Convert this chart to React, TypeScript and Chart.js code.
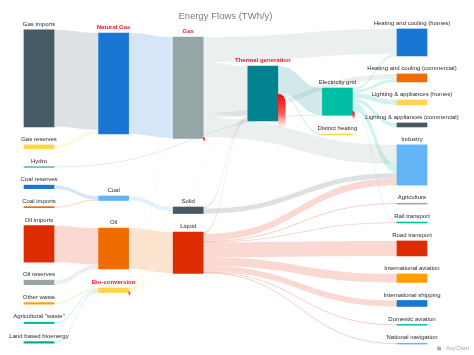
import React, { useEffect, useRef } from 'react';
import { Chart, registerables } from 'chart.js';

Chart.register(...registerables);

const TITLE = 'Energy Flows (TWh/y)';

// ---- nodes (in column order) ----
const nodeNames = [
  'Gas imports', 'Gas reserves', 'Hydro', 'Coal reserves', 'Coal imports', 'Oil imports',
  'Oil reserves', 'Other waste', 'Agricultural "waste"', 'Land based bioenergy',
  'Natural Gas', 'Coal', 'Oil', 'Bio-conversion',
  'Gas', 'Solid', 'Liquid',
  'Thermal generation',
  'Electricity grid', 'District heating',
  'Heating and cooling (homes)', 'Heating and cooling (commercial)', 'Lighting & appliances (homes)',
  'Lighting & appliances (commercial)', 'Industry', 'Agriculture', 'Rail transport', 'Road transport',
  'International aviation', 'International shipping', 'Domestic aviation', 'National navigation',
];

const nodeColors = [
  '#455a64', '#ffd54f', '#00838f', '#1976d2', '#ef6c00', '#dd2c00',
  '#96a6a6', '#ffa000', '#00bfa5', '#00a894',
  '#1976d2', '#64b5f6', '#ef6c00', '#ffd54f',
  '#96a6a6', '#455a64', '#dd2c00',
  '#00838f',
  '#00bfa5', '#ffd54f',
  '#1976d2', '#ef6c00', '#ffd54f',
  '#455a64', '#64b5f6', '#96a6a6', '#00bfa5', '#dd2c00',
  '#ffa000', '#1976d2', '#00bfa5', '#64b5f6',
];

// ---- flows (TWh/y) ----
const flowFrom = [
  'Gas imports', 'Gas reserves', 'Hydro', 'Coal reserves', 'Coal imports', 'Oil imports', 'Oil reserves',
  'Other waste', 'Agricultural "waste"', 'Land based bioenergy',
  'Natural Gas', 'Coal', 'Oil', 'Bio-conversion', 'Bio-conversion', 'Bio-conversion', 'Bio-conversion',
  'Gas', 'Gas', 'Gas', 'Gas',
  'Solid', 'Solid',
  'Liquid', 'Liquid', 'Liquid', 'Liquid', 'Liquid', 'Liquid', 'Liquid', 'Liquid', 'Liquid',
  'Thermal generation', 'Thermal generation',
  'Electricity grid', 'Electricity grid', 'Electricity grid', 'Electricity grid', 'Electricity grid', 'Electricity grid',
  'District heating',
];
const flowTo = [
  'Natural Gas', 'Natural Gas', 'Electricity grid', 'Coal', 'Coal', 'Oil', 'Oil',
  'Bio-conversion', 'Bio-conversion', 'Bio-conversion',
  'Gas', 'Solid', 'Liquid', 'Gas', 'Solid', 'Liquid', 'Thermal generation',
  'Heating and cooling (homes)', 'Heating and cooling (commercial)', 'Thermal generation', 'Industry',
  'Thermal generation', 'Industry',
  'Thermal generation', 'Industry', 'Road transport', 'International aviation', 'International shipping',
  'Domestic aviation', 'National navigation', 'Agriculture', 'Rail transport',
  'Electricity grid', 'District heating',
  'Heating and cooling (homes)', 'Heating and cooling (commercial)', 'Lighting & appliances (homes)',
  'Lighting & appliances (commercial)', 'Industry', 'Rail transport',
  'Industry',
];
const flowValues = [
  97, 4, 0.3, 3.5, 1, 36.5, 4.5,
  1.5, 1.5, 1.5,
  101, 4.5, 41, 0.5, 2, 0.5, 0.5,
  25, 5, 51, 19,
  1.5, 5,
  2, 7, 15, 8.5, 6, 0.8, 0.8, 0.8, 0.4,
  27, 1,
  2, 3, 5, 4, 8.5, 0.5,
  0.8,
];

// ---- losses (drop-offs) ----
const dropoffNodes = ['Gas', 'Thermal generation', 'Electricity grid', 'Bio-conversion'];
const dropoffValues = [1.5, 27, 4.3, 1];

const highlightedNodes = ['Natural Gas', 'Gas', 'Thermal generation', 'Bio-conversion'];

// ---- layout settings (value units) ----
const NODE_PADDING = 18;
const Y_EXTENT = 317;
const innerNodeTop: Record<string, number> = {
  'Natural Gas': 5, 'Coal': 168, 'Oil': 200, 'Bio-conversion': 260,
  'Gas': 9, 'Solid': 179, 'Liquid': 204,
  'Thermal generation': 38,
  'Electricity grid': 60, 'District heating': 106,
};

function buildLayout() {
  const n = nodeNames.length;
  const idx = new Map<string, number>(nodeNames.map((s, i) => [s, i]));
  const inSum = new Array(n).fill(0);
  const outSum = new Array(n).fill(0);
  const drop = new Array(n).fill(0);
  const links = flowFrom.map((f, k) => ({ s: idx.get(f)!, t: idx.get(flowTo[k])!, v: flowValues[k], sy: 0, ty: 0 }));
  links.forEach((l) => { outSum[l.s] += l.v; inSum[l.t] += l.v; });
  dropoffNodes.forEach((d, k) => { drop[idx.get(d)!] = dropoffValues[k]; });
  const value = nodeNames.map((_, i) => Math.max(inSum[i], outSum[i] + drop[i]));
  const depth = new Array(n).fill(0);
  for (let it = 0; it < n; it++) links.forEach((l) => { depth[l.t] = Math.max(depth[l.t], depth[l.s] + 1); });
  const maxDepth = Math.max(...depth);
  const col = depth.map((d, i) => (outSum[i] === 0 && drop[i] === 0 ? maxDepth : d));
  const top = new Array(n).fill(0);
  for (let c = 0; c <= maxDepth; c++) {
    const members = nodeNames.map((_, i) => i).filter((i) => col[i] === c);
    if (c === 0 || c === maxDepth) {
      const total = members.reduce((a, i) => a + value[i], 0) + NODE_PADDING * (members.length - 1);
      let y = (Y_EXTENT - total) / 2;
      members.forEach((i) => { top[i] = y; y += value[i] + NODE_PADDING; });
    } else {
      members.forEach((i) => { top[i] = innerNodeTop[nodeNames[i]] ?? 0; });
    }
  }
  // link ordering
  for (let i = 0; i < n; i++) {
    const outs = links.filter((l) => l.s === i).sort((a, b) => top[a.t] - top[b.t] || a.t - b.t);
    let o = 0;
    outs.forEach((l) => { l.sy = o; o += l.v; });
    const ins = links.filter((l) => l.t === i).sort((a, b) => top[a.s] - top[b.s] || a.s - b.s);
    let p = 0;
    ins.forEach((l) => { l.ty = p; p += l.v; });
  }
  return { links, value, drop, col, top, maxDepth };
}

function rgba(hex: string, a: number) {
  const h = hex.replace('#', '');
  const r = parseInt(h.slice(0, 2), 16), g = parseInt(h.slice(2, 4), 16), b = parseInt(h.slice(4, 6), 16);
  return `rgba(${r},${g},${b},${a})`;
}

const FONT = '"Liberation Sans", Arial, sans-serif';

export default function App() {
  const ref = useRef<HTMLCanvasElement | null>(null);
  useEffect(() => {
    const L = buildLayout();
    const sankeyPlugin = {
      id: 'sankeyDecor',
      beforeDatasetsDraw(chart: any) {
        const ctx = chart.ctx;
        const ys = chart.scales.y;
        const els = chart.getDatasetMeta(0).data;
        ctx.save();
        L.links.forEach((l) => {
          const es = els[l.s], et = els[l.t];
          const x0 = es.x + es.width / 2;
          const x1 = et.x - et.width / 2;
          const ys0 = ys.getPixelForValue(L.top[l.s] + l.sy);
          const ys1 = ys.getPixelForValue(L.top[l.s] + l.sy + l.v);
          const yt0 = ys.getPixelForValue(L.top[l.t] + l.ty);
          const yt1 = ys.getPixelForValue(L.top[l.t] + l.ty + l.v);
          const xm = (x0 + x1) / 2;
          ctx.beginPath();
          ctx.moveTo(x0, ys0);
          ctx.bezierCurveTo(xm, ys0, xm, yt0, x1, yt0);
          ctx.lineTo(x1, yt1);
          ctx.bezierCurveTo(xm, yt1, xm, ys1, x0, ys1);
          ctx.closePath();
          ctx.fillStyle = rgba(nodeColors[l.s], 0.18);
          ctx.fill();
          if (Math.abs(yt1 - yt0) < 1.2) {
            const c0 = (ys0 + ys1) / 2, c1 = (yt0 + yt1) / 2;
            ctx.beginPath();
            ctx.moveTo(x0, c0);
            ctx.bezierCurveTo(xm, c0, xm, c1, x1, c1);
            ctx.lineWidth = 0.7;
            ctx.strokeStyle = rgba(nodeColors[l.s], 0.14);
            ctx.stroke();
          }
        });
        ctx.restore();
      },
      afterDatasetsDraw(chart: any) {
        const ctx = chart.ctx;
        const ys = chart.scales.y;
        const els = chart.getDatasetMeta(0).data;
        ctx.save();
        // drop-offs
        nodeNames.forEach((_, i) => {
          const d = L.drop[i];
          if (!d) return;
          const e = els[i];
          const xr = e.x + e.width / 2;
          const yA = ys.getPixelForValue(L.top[i] + L.value[i] - d);
          const yB = ys.getPixelForValue(L.top[i] + L.value[i]);
          const w = 1.5 + 0.23 * (yB - yA);
          const end = yB + 0.15 * (yB - yA) + 3.5;
          const g = ctx.createLinearGradient(0, yA, 0, end);
          g.addColorStop(0, 'rgba(255,0,0,1)');
          g.addColorStop(0.55, 'rgba(255,30,30,0.75)');
          g.addColorStop(1, 'rgba(255,80,80,0)');
          ctx.beginPath();
          ctx.moveTo(xr, yA);
          ctx.quadraticCurveTo(xr + w, yA, xr + w, yA + Math.min(w * 1.2, yB - yA));
          ctx.lineTo(xr + w, end);
          ctx.lineTo(xr, end);
          ctx.closePath();
          ctx.fillStyle = g;
          ctx.fill();
        });
        // labels
        ctx.textAlign = 'center';
        ctx.textBaseline = 'middle';
        nodeNames.forEach((name, i) => {
          const e = els[i];
          const hi = highlightedNodes.includes(name);
          ctx.font = `${hi ? 'bold ' : ''}6px ${FONT}`;
          ctx.fillStyle = hi ? '#f21b1b' : '#2a2a2a';
          ctx.fillText(name, e.x, ys.getPixelForValue(L.top[i]) - 5.5);
        });
        // title
        const first = els[0];
        const last = els[nodeNames.length - 1];
        const tx = ((first.x - first.width / 2) + (last.x + last.width / 2)) / 2;
        ctx.font = `9.5px ${FONT}`;
        ctx.fillStyle = '#7d7d7d';
        ctx.fillText(TITLE, tx, 16.5);
        // credits
        ctx.font = `5.5px ${FONT}`;
        ctx.fillStyle = '#a8a8a8';
        ctx.textAlign = 'right';
        ctx.fillText('AnyChart', 469, 348.5);
        ctx.fillStyle = '#b5b5b5';
        ctx.fillRect(437, 346.5, 4, 4);
        ctx.restore();
      },
    };

    const chart = new Chart(ref.current!, {
      type: 'bar',
      data: {
        datasets: [{
          data: nodeNames.map((_, i) => ({ x: L.col[i], y: [L.top[i], L.top[i] + L.value[i]] })) as any,
          backgroundColor: nodeColors,
          borderWidth: 0,
          barThickness: 30,
          clip: false as any,
        }],
      },
      options: {
        animation: false,
        responsive: false,
        maintainAspectRatio: false,
        layout: { padding: { left: 39, right: 62, top: 28, bottom: 10 } },
        plugins: { legend: { display: false }, tooltip: { enabled: false }, title: { display: false } },
        scales: {
          x: { type: 'linear', min: 0, max: L.maxDepth, offset: false, display: false },
          y: { type: 'linear', min: 0, max: Y_EXTENT, reverse: true, display: false },
        },
      },
      plugins: [sankeyPlugin],
    });
    return () => chart.destroy();
  }, []);

  return (
    <div style={{ position: 'fixed', left: 0, top: 0, width: 474, height: 355, background: '#fff' }}>
      <canvas ref={ref} width={474} height={355} style={{ width: 474, height: 355 }} />
    </div>
  );
}
